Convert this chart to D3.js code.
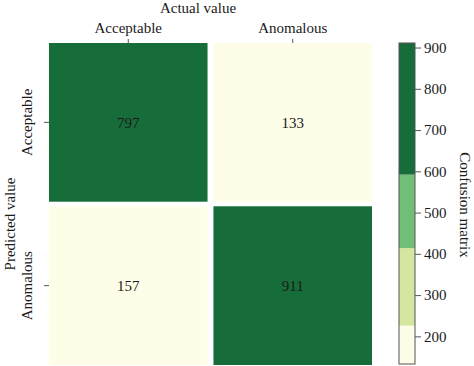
<!DOCTYPE html>
<html><head><meta charset="utf-8">
<script src="https://cdn.jsdelivr.net/npm/d3@7"></script>
<style>body{margin:0;background:#fff}svg{display:block}text{font-family:"Liberation Serif","DejaVu Serif",serif;fill:#1a1a1a}</style>
</head><body>
<script>
const categories = ["Acceptable", "Anomalous"];
const predicted = ["Acceptable", "Anomalous"];
const values = [[797, 133], [157, 911]];
const cbTicks = [200, 300, 400, 500, 600, 700, 800, 900];
const cbDomain = [133, 911];
const thresholds = [226, 414, 592];
const palette = ["#fefde7", "#d4e6a0", "#71bf76", "#176d39"];

const W = 474, H = 366;
const svg = d3.select("body").append("svg").attr("width", W).attr("height", H);
const fs = 15;

const x = d3.scaleBand().domain(categories).range([49, 372]).paddingInner(0.036);
const y = d3.scaleBand().domain(predicted).range([43, 365]).paddingInner(0.028);
const color = d3.scaleThreshold().domain(thresholds).range(palette);

const cells = [];
predicted.forEach((p, i) => categories.forEach((c, j) => cells.push({p, c, v: values[i][j]})));

svg.append("g").selectAll("rect").data(cells).join("rect")
  .attr("x", d => x(d.c)).attr("y", d => y(d.p))
  .attr("width", x.bandwidth()).attr("height", y.bandwidth())
  .attr("fill", d => color(d.v));

svg.append("g").selectAll("text").data(cells).join("text")
  .attr("x", d => x(d.c) + x.bandwidth() / 2)
  .attr("y", d => y(d.p) + y.bandwidth() / 2)
  .attr("dy", "0.35em").attr("text-anchor", "middle")
  .style("font-size", fs + "px").text(d => d.v);

// top axis
const xAxis = svg.append("g").attr("transform", "translate(0,43)")
  .call(d3.axisTop(x).tickSize(4).tickPadding(6));
xAxis.select(".domain").remove();
xAxis.selectAll("line").attr("stroke", "#555");
xAxis.selectAll("text").style("font-size", fs + "px").style("font-family", "Liberation Serif");

// left axis
const yAxis = svg.append("g").attr("transform", "translate(49,0)")
  .call(d3.axisLeft(y).tickSize(5).tickPadding(6));
yAxis.select(".domain").remove();
yAxis.selectAll("line").attr("stroke", "#555");
yAxis.selectAll(".tick").attr("transform", "translate(0,0)");
yAxis.selectAll(".tick line").attr("y1", d => y(d) + y.bandwidth() / 2).attr("y2", d => y(d) + y.bandwidth() / 2);
yAxis.selectAll(".tick text").style("font-size", fs + "px").style("font-family", "Liberation Serif")
  .attr("text-anchor", "middle").attr("transform", "rotate(-90)").attr("dy", null)
  .attr("y", -17).attr("x", d => -(y(d) + y.bandwidth() / 2));

// titles
svg.append("text").attr("x", 198).attr("y", 13).attr("text-anchor", "middle")
  .style("font-size", fs + "px").text("Actual value");
svg.append("text").attr("transform", "translate(15,224) rotate(-90)").attr("text-anchor", "middle")
  .style("font-size", fs + "px").text("Predicted value");

// colorbar
const cbX = 399, cbW = 16;
const cy = d3.scaleLinear().domain(cbDomain).range([364, 43]);
const bounds = [cbDomain[0], ...thresholds, cbDomain[1]];
const segs = d3.range(palette.length).map(i => ({a: bounds[i], b: bounds[i + 1], c: palette[i]}));
svg.append("g").selectAll("rect").data(segs).join("rect")
  .attr("x", cbX).attr("width", cbW)
  .attr("y", d => cy(d.b)).attr("height", d => cy(d.a) - cy(d.b))
  .attr("fill", d => d.c);
svg.append("rect").attr("x", cbX).attr("y", cy(cbDomain[1])).attr("width", cbW)
  .attr("height", cy(cbDomain[0]) - cy(cbDomain[1])).attr("fill", "none").attr("stroke", "#555").attr("stroke-width", 1);
const cbAxis = svg.append("g").attr("transform", `translate(${cbX + cbW},0)`)
  .call(d3.axisRight(cy).tickValues(cbTicks).tickSize(6).tickPadding(3));
cbAxis.select(".domain").remove();
cbAxis.selectAll("line").attr("stroke", "#555");
cbAxis.selectAll("text").style("font-size", fs + "px").style("font-family", "Liberation Serif");
svg.append("text").attr("transform", "translate(460,205) rotate(90)").attr("text-anchor", "middle")
  .style("font-size", fs + "px").text("Confusion matrix");
</script>
</body></html>
